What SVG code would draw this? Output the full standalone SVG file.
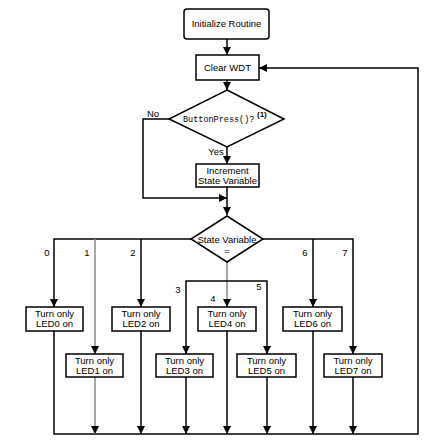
<svg xmlns="http://www.w3.org/2000/svg" width="425" height="443" viewBox="0 0 425 443">
<style>
.box{fill:#fff;stroke:#000;stroke-width:1.5}
.ln{fill:none;stroke:#000;stroke-width:1.5}
.gl{fill:none;stroke:#888;stroke-width:1.5}
text{font-family:"Liberation Sans",Arial,sans-serif;font-size:9.5px;fill:#000;text-anchor:middle}
.mono{font-family:"Liberation Mono","Courier New",monospace;font-size:8.5px;text-anchor:start}
.lbl{font-size:9.5px}
</style>
<defs>
<marker id="ah" viewBox="0 0 10 10" refX="10" refY="5" markerWidth="8" markerHeight="8" markerUnits="userSpaceOnUse" orient="auto">
<path d="M0,0 L10,5 L0,10 Z" fill="#000"/>
</marker>
</defs>
<rect width="425" height="443" fill="#fff"/>
<g id="connectors">
<line class="ln" x1="227" y1="39" x2="227" y2="55" marker-end="url(#ah)"/>
<line class="ln" x1="227" y1="80" x2="227" y2="90" marker-end="url(#ah)"/>
<line class="ln" x1="227" y1="147" x2="227" y2="164" marker-end="url(#ah)"/>
<line class="ln" x1="227" y1="187" x2="227" y2="215" marker-end="url(#ah)"/>
<polyline class="ln" points="169,119 143,119 143,198 227,198" marker-end="url(#ah)"/>
<polyline class="ln" points="191,239 54,239 54,307" marker-end="url(#ah)"/>
<line class="gl" x1="95" y1="239" x2="95" y2="354" marker-end="url(#ah)"/>
<line class="ln" x1="141" y1="239" x2="141" y2="307" marker-end="url(#ah)"/>
<polyline class="ln" points="263,239 353,239 353,354" marker-end="url(#ah)"/>
<line class="ln" x1="313" y1="239" x2="313" y2="307" marker-end="url(#ah)"/>
<line class="gl" x1="227" y1="262" x2="227" y2="300"/>
<line class="ln" x1="227" y1="299" x2="227" y2="307" marker-end="url(#ah)"/>
<polyline class="ln" points="186,354 186,281 267,281 267,354"/>
<line class="ln" x1="186" y1="346" x2="186" y2="354" marker-end="url(#ah)"/>
<line class="ln" x1="267" y1="346" x2="267" y2="354" marker-end="url(#ah)"/>
<polyline class="ln" points="54,331 54,434 418,434 418,68 259,68" marker-end="url(#ah)"/>
<line class="gl" x1="95" y1="377" x2="95" y2="434" marker-end="url(#ah)"/>
<line class="ln" x1="141" y1="331" x2="141" y2="434" marker-end="url(#ah)"/>
<line class="ln" x1="186" y1="377" x2="186" y2="434" marker-end="url(#ah)"/>
<line class="ln" x1="227" y1="331" x2="227" y2="434" marker-end="url(#ah)"/>
<line class="ln" x1="267" y1="377" x2="267" y2="434" marker-end="url(#ah)"/>
<line class="ln" x1="313" y1="331" x2="313" y2="434" marker-end="url(#ah)"/>
<line class="ln" x1="353" y1="377" x2="353" y2="434" marker-end="url(#ah)"/>
<text x="153" y="117" class="lbl">No</text>
<text x="216" y="155" class="lbl">Yes</text>
<text x="47" y="256" class="lbl">0</text>
<text x="87" y="256" class="lbl">1</text>
<text x="133" y="256" class="lbl">2</text>
<text x="178" y="293" class="lbl">3</text>
<text x="213" y="302" class="lbl">4</text>
<text x="259" y="290" class="lbl">5</text>
<text x="305" y="256" class="lbl">6</text>
<text x="345" y="256" class="lbl">7</text>
</g>
<g id="init">
<rect class="box" x="184" y="9" width="85" height="30" rx="3"/>
<text x="226.5" y="27">Initialize Routine</text>
</g>
<g id="clearwdt">
<rect class="box" x="196" y="55" width="63" height="25"/>
<text x="227.5" y="71">Clear WDT</text>
</g>
<g id="buttonpress">
<polygon class="box" points="227,90 284,119 227,147 169,119"/>
<text x="183" y="122" class="mono">ButtonPress()?</text>
<text x="257" y="117" style="font-size:8px;font-weight:bold;text-anchor:start">(1)</text>
</g>
<g id="increment">
<rect class="box" x="196" y="164" width="63" height="23"/>
<text x="227.5" y="174">Increment</text>
<text x="227.5" y="184">State Variable</text>
</g>
<g id="statevar">
<polygon class="box" points="227,216 263,239 227,262 191,239"/>
<text x="227" y="243">State Variable</text>
<text x="227" y="254">=</text>
</g>
<g id="led0"><rect class="box" x="26" y="307" width="57" height="24"/><text x="54.5" y="317">Turn only</text><text x="54.5" y="327">LED0 on</text></g>
<g id="led1"><rect class="box" x="66" y="354" width="57" height="23"/><text x="94.5" y="364">Turn only</text><text x="94.5" y="374">LED1 on</text></g>
<g id="led2"><rect class="box" x="112" y="307" width="58" height="24"/><text x="141" y="317">Turn only</text><text x="141" y="327">LED2 on</text></g>
<g id="led3"><rect class="box" x="156" y="354" width="57" height="23"/><text x="184.5" y="364">Turn only</text><text x="184.5" y="374">LED3 on</text></g>
<g id="led4"><rect class="box" x="198" y="307" width="58" height="24"/><text x="227" y="317">Turn only</text><text x="227" y="327">LED4 on</text></g>
<g id="led5"><rect class="box" x="237" y="354" width="59" height="23"/><text x="266.5" y="364">Turn only</text><text x="266.5" y="374">LED5 on</text></g>
<g id="led6"><rect class="box" x="283" y="307" width="59" height="24"/><text x="312.5" y="317">Turn only</text><text x="312.5" y="327">LED6 on</text></g>
<g id="led7"><rect class="box" x="324" y="354" width="58" height="23"/><text x="353" y="364">Turn only</text><text x="353" y="374">LED7 on</text></g>
</svg>
